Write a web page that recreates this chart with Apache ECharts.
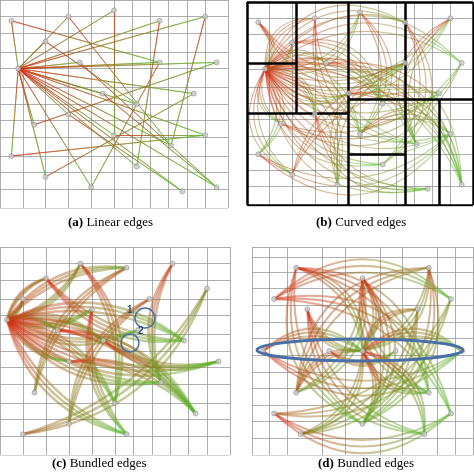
<!DOCTYPE html>
<html><head><meta charset="utf-8">
<script src="https://cdn.jsdelivr.net/npm/echarts@6/dist/echarts.min.js"></script>
<style>html,body{margin:0;padding:0;background:#fff}#c{width:474px;height:474px}</style>
</head><body><div id="c"></div>
<script>
// ---- data ----
const captionLabels = ["(a)","(b)","(c)","(d)"];
const captions = ["Linear edges","Curved edges","Bundled edges","Bundled edges"];
const nodesA = [[8,33],[5,10],[30,8],[50,5],[70,10],[90,8],[95,30],[85,45],[60,50],[45,45],[30,55],[15,60],[5,75],[20,85],[40,90],[60,80],[75,70],[90,65],[95,90],[80,92],[50,65],[70,30],[35,30],[20,20]];
const edgesA = [[0,1],[0,2],[0,3],[0,4],[0,5],[0,6],[0,7],[0,8],[0,9],[0,10],[0,11],[0,12],[0,13],[0,14],[0,15],[0,16],[0,17],[0,18],[0,19],[0,20],[0,21],[0,22],[0,23],[4,15],[5,16],[9,18],[10,19],[20,17],[21,14],[22,18],[12,17],[13,7],[11,6],[3,20],[2,16],[23,8],[1,21]];
const gridXA = [10,20,30,40,50,58,66,74,82,90];
const gridYA = [8,16,25,33,42,50,58,66,75,83,91];
const thickB = [[0,0,100,0],[0,0,0,100],[100,0,100,100],[0,100,100,100],[45,0,45,100],[45,48,100,48],[70,0,70,48],[0,55,45,55],[22,0,22,55],[70,48,70,100],[0,30,22,30],[85,48,85,100],[45,75,70,75]];
const nodesC = [[3,35],[10,25],[20,15],[35,8],[55,10],[75,8],[90,20],[60,40],[45,45],[30,55],[15,70],[10,90],[30,85],[50,75],[70,65],[85,80],[95,55],[80,45],[65,25],[40,30],[25,40],[55,90]];
const edgesC = [[0,1],[0,2],[0,3],[0,4],[0,7],[0,8],[0,9],[0,13],[0,14],[0,15],[0,16],[0,17],[0,19],[0,20],[0,21],[9,15],[8,16],[10,4],[11,6],[12,18],[5,14],[3,13],[2,17],[20,15],[19,21]];
const nodesD = [[50,50],[20,10],[25,30],[20,70],[22,90],[80,10],[75,30],[80,70],[78,90],[50,15],[50,85],[5,50],[95,50],[35,50],[65,50],[10,25],[90,25],[10,80],[90,80]];
const edgesD = [[0,1],[0,2],[0,3],[0,4],[0,5],[0,6],[0,7],[0,8],[0,9],[0,10],[0,11],[0,12],[13,14],[1,7],[2,8],[3,5],[4,6],[15,16],[17,18],[15,18],[17,16],[9,10],[11,12],[9,3],[9,7],[10,1],[10,5]];
const gridXD = [8,16,32,42,58,68,84,92];
const gridYD = [5,12,20,28,36,44,52,60,68,76,84,92];
// ---- build ----
const panels = [
  {left:0,top:0,width:228,height:208},
  {left:247,top:2,width:226,height:203},
  {left:0,top:247,width:230,height:208},
  {left:252,top:247,width:221,height:208}
];
const grids = panels.map(p=>Object.assign({},p));
const xAxis = panels.map((p,i)=>({gridIndex:i,type:'value',min:0,max:100,show:false}));
const yAxis = panels.map((p,i)=>({gridIndex:i,type:'value',min:0,max:100,inverse:true,show:false}));
function gridSegs(xs,ys){const s=[];xs.forEach(x=>s.push({coords:[[x,0],[x,100]]}));ys.forEach(y=>s.push({coords:[[0,y],[100,y]]}));s.push({coords:[[0,0],[100,0]]},{coords:[[0,100],[100,100]]},{coords:[[0,0],[0,100]]},{coords:[[100,0],[100,100]]});return s;}
const grad = ()=>new echarts.graphic.LinearGradient(0,0,1,1,[{offset:0,color:'rgba(220,40,20,0.75)'},{offset:1,color:'rgba(80,190,40,0.75)'}]);
function edgeData(nodes,edges,curv){return edges.map((e,k)=>({coords:[nodes[e[0]],nodes[e[1]]],lineStyle:{curveness:curv?curv*(k%2?1:-1):0}}));}
const series=[];
const cfg=[
  {nodes:nodesA,edges:edgesA,xs:gridXA,ys:gridYA,curv:0,w:1},
  {nodes:nodesA,edges:edgesA,xs:gridXA,ys:gridYA,curv:0.35,w:1.2},
  {nodes:nodesC,edges:edgesC,xs:gridXA,ys:gridYA,curv:0.2,w:2.5},
  {nodes:nodesD,edges:edgesD,xs:gridXD,ys:gridYD,curv:0.3,w:2}
];
cfg.forEach((c,i)=>{
  series.push({type:'lines',coordinateSystem:'cartesian2d',xAxisIndex:i,yAxisIndex:i,silent:true,data:gridSegs(c.xs,c.ys),lineStyle:{color:'#999',width:0.8,opacity:1}});
  if(i===1) series.push({type:'lines',coordinateSystem:'cartesian2d',xAxisIndex:i,yAxisIndex:i,silent:true,data:thickB.map(t=>({coords:[[t[0],t[1]],[t[2],t[3]]]})),lineStyle:{color:'#000',width:2.5,opacity:1},z:5});
  for(let r=0;r<3;r++) series.push({type:'lines',coordinateSystem:'cartesian2d',xAxisIndex:i,yAxisIndex:i,silent:true,data:edgeData(c.nodes,c.edges,c.curv*(1+r*0.25)),lineStyle:{color:grad(),width:c.w,opacity:0.6},z:3});
  series.push({type:'scatter',xAxisIndex:i,yAxisIndex:i,data:c.nodes,symbolSize:5,itemStyle:{color:'#ccc',borderColor:'#777',borderWidth:0.6},z:6});
});
function cap(i,l,t){return {type:'text',left:l,top:t,style:{text:'{b|'+captionLabels[i]+'} '+captions[i],font:'13px "Liberation Serif"',fill:'#000',rich:{b:{fontWeight:'bold',fontFamily:'Liberation Serif',fontSize:13}}}};}
const chart=echarts.init(document.getElementById('c'));
chart.setOption({animation:false,grid:grids,xAxis,yAxis,series,
  graphic:[
    cap(0,68,216),cap(1,316,216),cap(2,52,457),cap(3,318,457),
    {type:'ellipse',shape:{cx:360,cy:350,rx:103,ry:11},style:{fill:'none',stroke:'#4a6fa5',lineWidth:3},z:100},
    {type:'circle',shape:{cx:145,cy:318,r:10},style:{fill:'none',stroke:'#4a6fa5',lineWidth:1.5},z:100},
    {type:'circle',shape:{cx:130,cy:343,r:9},style:{fill:'none',stroke:'#4a6fa5',lineWidth:1.5},z:100},
    {type:'text',left:127,top:305,style:{text:'1',font:'bold 10px sans-serif',fill:'#2a4f85'},z:100},
    {type:'text',left:138,top:326,style:{text:'2',font:'bold 10px sans-serif',fill:'#2a4f85'},z:100}
  ]});
</script></body></html>
